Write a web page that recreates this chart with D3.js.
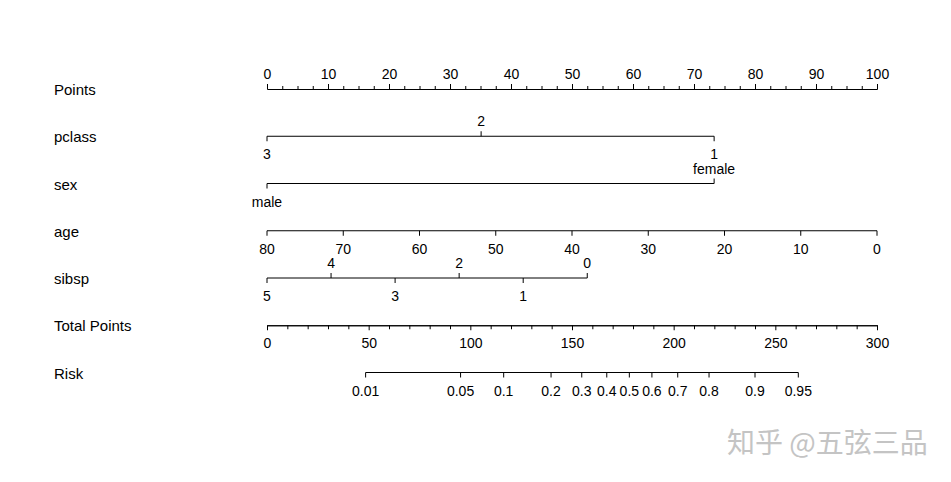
<!DOCTYPE html>
<html>
<head>
<meta charset="utf-8">
<script src="https://cdn.jsdelivr.net/npm/d3@7"></script>
<style>
  body { margin: 0; background: #fff; }
  text { font-family: "Liberation Sans", Arial, sans-serif; }
</style>
</head>
<body>
<div id="chart"></div>
<script>
// nomogram data
const rowNames = ["Points", "pclass", "sex", "age", "sibsp", "Total Points", "Risk"];

const pointsTicks = [0, 10, 20, 30, 40, 50, 60, 70, 80, 90, 100];
const pointsMinor = [2.5, 5, 7.5, 12.5, 15, 17.5, 22.5, 25, 27.5, 32.5, 35, 37.5, 42.5, 45, 47.5,
                     52.5, 55, 57.5, 62.5, 65, 67.5, 72.5, 75, 77.5, 82.5, 85, 87.5, 92.5, 95, 97.5];

const pclassLevels = ["3", "2", "1"];
const pclassPoints = [0, 35.1, 73.3];
const pclassSide = ["below", "above", "below"];

const sexLevels = ["male", "female"];
const sexPoints = [0, 73.3];
const sexSide = ["below", "above"];

const ageTicks = [80, 70, 60, 50, 40, 30, 20, 10, 0];
const ageDomain = [80, 0];        // age 80 -> 0 points, age 0 -> 100 points
const agePointsRange = [0, 100];

const sibspTicks = [5, 4, 3, 2, 1, 0];
const sibspSide = ["below", "above", "below", "above", "below", "above"];
const sibspDomain = [5, 0];
const sibspPointsRange = [0, 52.5];

const totalTicks = [0, 50, 100, 150, 200, 250, 300];
const totalMinor = [10, 20, 30, 40, 60, 70, 80, 90, 110, 120, 130, 140, 160, 170, 180, 190,
                    210, 220, 230, 240, 260, 270, 280, 290];

const riskLabels = ["0.01", "0.05", "0.1", "0.2", "0.3", "0.4", "0.5", "0.6", "0.7", "0.8", "0.9", "0.95"];
const riskTotalPoints = [48.5, 95.2, 116.4, 139.7, 154.8, 167.1, 178.2, 189.3, 202.0, 217.4, 240.0, 261.3];

const width = 951;
const height = 482;

const svg = d3.select("#chart")
    .append("svg")
    .attr("width", width)
    .attr("height", height);

const left = 267, right = 877;
const rowY = d3.scaleLinear().domain([0, 6]).range([89, 372.5]);

const xPts = d3.scaleLinear().domain([0, 100]).range([left, right]);
const xTotal = d3.scaleLinear().domain([0, 300]).range([left, right]);

const tickLen = 5;

// row names on the left
svg.append("g")
    .selectAll("text")
    .data(rowNames)
    .join("text")
    .attr("x", 54)
    .attr("y", (d, i) => rowY(i) + 6)
    .attr("font-size", 15)
    .text(d => d);

function styleAxis(g) {
    g.attr("font-family", null).attr("font-size", 14);
    g.selectAll(".domain").attr("stroke", "#000").attr("stroke-width", 1);
    g.selectAll(".tick line").attr("stroke", "#000");
    g.selectAll(".tick text").attr("fill", "#000");
}

// Points axis
svg.append("g")
    .attr("transform", `translate(0,${rowY(0)})`)
    .call(d3.axisTop(xPts).tickValues(pointsMinor).tickSize(3).tickSizeOuter(0).tickFormat(""))
    .call(styleAxis);
svg.append("g")
    .attr("transform", `translate(0,${rowY(0)})`)
    .call(d3.axisTop(xPts).tickValues(pointsTicks).tickSize(tickLen).tickSizeOuter(0).tickPadding(5))
    .call(styleAxis);

// categorical / variable rows drawn with alternating labels
function drawRow(rowIndex, xs, labels, sides) {
    const y = rowY(rowIndex);
    const g = svg.append("g");
    g.append("line")
        .attr("x1", d3.min(xs)).attr("x2", d3.max(xs))
        .attr("y1", y).attr("y2", y)
        .attr("stroke", "#000");
    const items = xs.map((x, i) => ({x: x, label: labels[i], side: sides[i]}));
    g.selectAll("line.tick")
        .data(items)
        .join("line")
        .attr("class", "tick")
        .attr("x1", d => d.x).attr("x2", d => d.x)
        .attr("y1", y)
        .attr("y2", d => d.side === "above" ? y - tickLen : y + tickLen)
        .attr("stroke", "#000");
    g.selectAll("text")
        .data(items)
        .join("text")
        .attr("x", d => d.x)
        .attr("y", d => d.side === "above" ? y - 10 : y + 23)
        .attr("text-anchor", "middle")
        .attr("font-size", 14)
        .text(d => d.label);
}

drawRow(1, pclassPoints.map(xPts), pclassLevels, pclassSide);
drawRow(2, sexPoints.map(xPts), sexLevels, sexSide);

// age axis
const ageToPts = d3.scaleLinear().domain(ageDomain).range(agePointsRange);
drawRow(3, ageTicks.map(a => xPts(ageToPts(a))), ageTicks.map(String), ageTicks.map(() => "below"));

// sibsp axis
const sibspToPts = d3.scaleLinear().domain(sibspDomain).range(sibspPointsRange);
drawRow(4, sibspTicks.map(s => xPts(sibspToPts(s))), sibspTicks.map(String), sibspSide);

// Total Points axis
svg.append("g")
    .attr("transform", `translate(0,${rowY(5)})`)
    .call(d3.axisBottom(xTotal).tickValues(totalMinor).tickSize(4).tickSizeOuter(0).tickFormat(""))
    .call(styleAxis);
svg.append("g")
    .attr("transform", `translate(0,${rowY(5)})`)
    .call(d3.axisBottom(xTotal).tickValues(totalTicks).tickSize(tickLen).tickSizeOuter(0).tickPadding(8))
    .call(styleAxis);

// Risk axis
drawRow(6, riskTotalPoints.map(xTotal), riskLabels, riskLabels.map(() => "below"));

// watermark
svg.append("text")
    .attr("x", 727)
    .attr("y", 453)
    .attr("font-size", 28)
    .attr("fill", "#c4c4c4")
    .style("font-family", "'Noto Sans CJK SC', sans-serif")
    .text("知乎 @五弦三品");
</script>
</body>
</html>
